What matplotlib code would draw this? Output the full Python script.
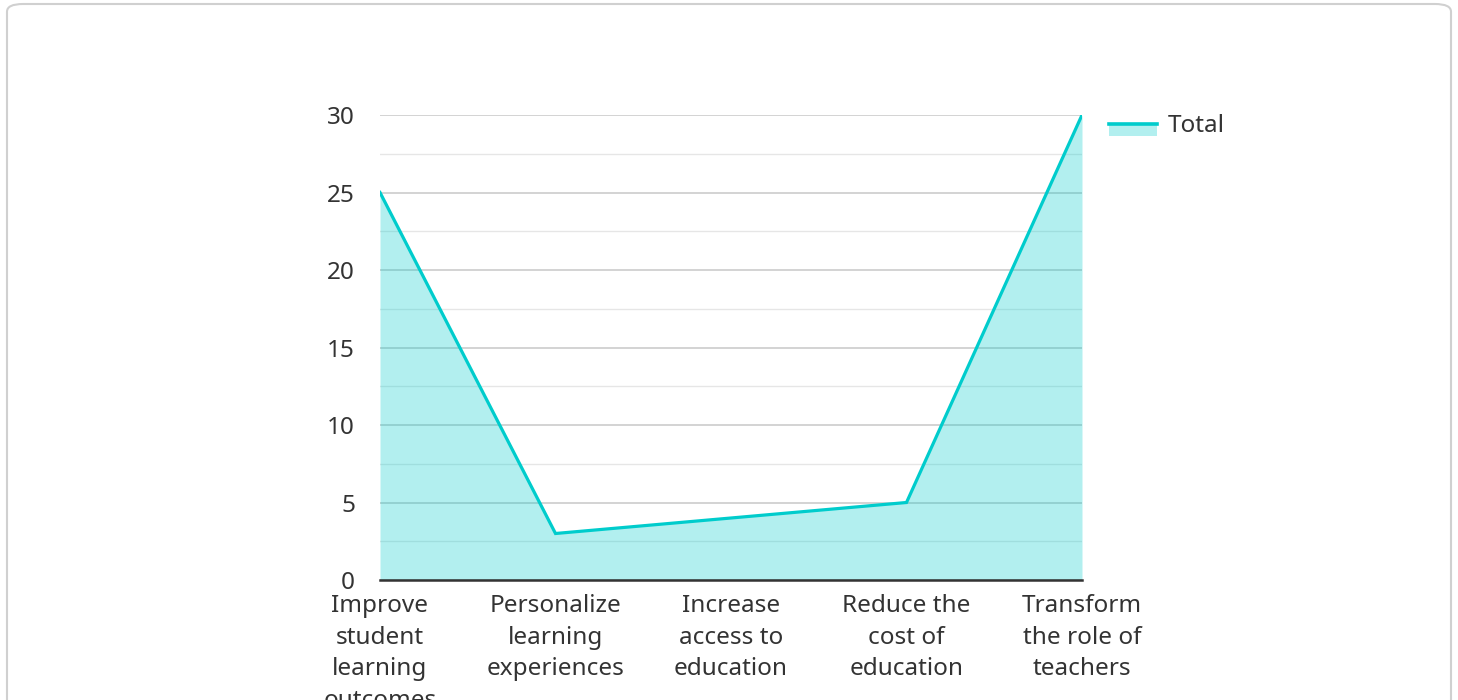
import matplotlib
matplotlib.use("Agg")
import matplotlib.pyplot as plt
from matplotlib.patches import FancyBboxPatch, Rectangle
from matplotlib.lines import Line2D
from matplotlib.legend_handler import HandlerBase
from matplotlib.ticker import MultipleLocator

categories = ["Improve\nstudent\nlearning\noutcomes", "Personalize\nlearning\nexperiences",
              "Increase\naccess to\neducation", "Reduce the\ncost of\neducation",
              "Transform\nthe role of\nteachers"]
totals = [25, 3, 4, 5, 30]
series_name = "Total"

LINE = "#00cccc"
TXT = "#333333"
FS = 17.5

plt.rcParams['font.family'] = ['Noto Sans', 'DejaVu Sans']

W, H = 1458, 700
fig = plt.figure(figsize=(W / 100, H / 100), dpi=100)

# card
card = FancyBboxPatch((7 / W, -20 / H), 1444 / W, 716 / H,
                      boxstyle="round,pad=0,rounding_size=0.011",
                      transform=fig.transFigure, facecolor="none",
                      edgecolor="#d0d0d0", linewidth=1.5, zorder=-1)
fig.patches.append(card)

ax = fig.add_axes([380 / W, 120 / H, 702 / W, 465 / H])
ax.set_facecolor("none")
x = list(range(len(categories)))
ax.fill_between(x, totals, 0, color=LINE, zorder=2, alpha=0.3, linewidth=0)
ax.plot(x, totals, color=LINE, linewidth=2.3, zorder=4, solid_joinstyle="miter")

ax.set_xlim(0, len(categories) - 1)
ax.set_ylim(0, 30)
ax.yaxis.set_major_locator(MultipleLocator(5))
ax.yaxis.set_minor_locator(MultipleLocator(2.5))
ax.grid(axis="y", which="major", color="#c8c8c8", linewidth=1.1, zorder=1)
ax.grid(axis="y", which="minor", color="#e6e6e6", linewidth=1.0, zorder=1)
ax.set_axisbelow(True)
for s in ["top", "right", "left"]:
    ax.spines[s].set_visible(False)
ax.spines["bottom"].set_color("#333333")
ax.spines["bottom"].set_linewidth(1.8)
ax.spines["bottom"].set_zorder(5)

ax.set_xticks(x)
ax.set_xticklabels(categories, fontsize=FS, color=TXT, linespacing=1.43, va="top")
ax.tick_params(axis="x", length=0, pad=10)
ax.tick_params(axis="y", which="both", length=0, pad=18, labelsize=FS, labelcolor=TXT)


class AreaHandler(HandlerBase):
    def create_artists(self, legend, orig_handle, xdescent, ydescent, width, height, fontsize, trans):
        mid = height * 0.5
        r = Rectangle((-xdescent, mid - 8.8), width, 8.8,
                      facecolor=LINE, alpha=0.3, edgecolor="none", transform=trans)
        l = Line2D([-xdescent, -xdescent + width], [mid, mid], color=LINE,
                   linewidth=2.6, transform=trans)
        return [r, l]


handle = Rectangle((0, 0), 1, 1)
leg = ax.legend([handle], [series_name], handler_map={Rectangle: AreaHandler()},
                loc="upper left", bbox_to_anchor=(1.024, 1.022), frameon=False,
                fontsize=FS, handlelength=2.0, handleheight=0.7, handletextpad=0.45,
                borderaxespad=0)
for t in leg.get_texts():
    t.set_color(TXT)

fig.savefig("out.png", dpi=100)
